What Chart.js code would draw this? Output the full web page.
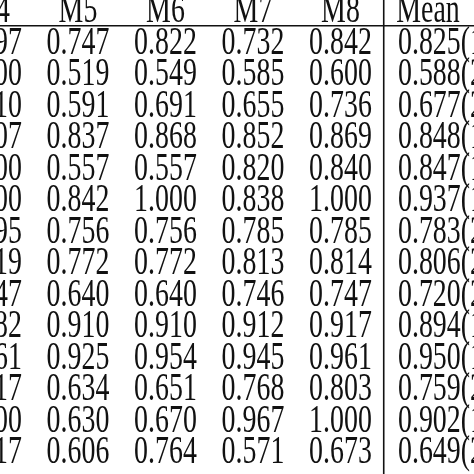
<!DOCTYPE html>
<html>
<head>
<meta charset="utf-8">
<script src="https://cdn.jsdelivr.net/npm/chart.js@4"></script>
<style>
  html, body { margin: 0; padding: 0; background: #fff; }
  #wrap { width: 474px; height: 474px; }
</style>
</head>
<body>
<div id="wrap"><canvas id="tbl"></canvas></div>
<script>
//Columnas y filas de la tabla
const columns = ["M4", "M5", "M6", "M7", "M8", "Mean"];
const colM4 = ["0.797", "0.500", "0.610", "0.807", "0.800", "1.000", "0.795", "0.819", "0.747", "0.882", "0.961", "0.717", "1.000", "0.717"];
const colM5 = ["0.747", "0.519", "0.591", "0.837", "0.557", "0.842", "0.756", "0.772", "0.640", "0.910", "0.925", "0.634", "0.630", "0.606"];
const colM6 = ["0.822", "0.549", "0.691", "0.868", "0.557", "1.000", "0.756", "0.772", "0.640", "0.910", "0.954", "0.651", "0.670", "0.764"];
const colM7 = ["0.732", "0.585", "0.655", "0.852", "0.820", "0.838", "0.785", "0.813", "0.746", "0.912", "0.945", "0.768", "0.967", "0.571"];
const colM8 = ["0.842", "0.600", "0.736", "0.869", "0.840", "1.000", "0.785", "0.814", "0.747", "0.917", "0.961", "0.803", "1.000", "0.673"];
const colMean = ["0.825(1)", "0.588(2)", "0.677(2)", "0.848(1)", "0.847(1)", "0.937(1)", "0.783(2)", "0.806(2)", "0.720(2)", "0.894(1)", "0.950(1)", "0.759(2)", "0.902(1)", "0.649(2)"];

const allCols = [colM4, colM5, colM6, colM7, colM8, colMean];

//Cada celda es un punto (x = columna, y = fila)
const cells = [];
columns.forEach((c, i) => cells.push({ x: i, y: 0, t: c }));
allCols.forEach((col, i) => col.forEach((v, r) => cells.push({ x: i, y: r + 1, t: v })));

const SX = 0.68;

const tablePlugin = {
  id: "tablePlugin",
  afterDatasetsDraw(chart) {
    const ctx = chart.ctx;
    const xs = chart.scales.x, ys = chart.scales.y;
    ctx.save();
    ctx.fillStyle = "#111";
    ctx.font = "41px 'Liberation Serif'";
    ctx.textBaseline = "middle";
    cells.forEach(c => {
      const px = xs.getPixelForValue(c.x);
      const py = ys.getPixelForValue(c.y);
      ctx.save();
      ctx.translate(px, py);
      ctx.scale(SX, 1);
      if (c.x === 5 && c.y > 0) { ctx.textAlign = "left"; ctx.fillText(c.t, -30 / SX, 0); }
      else { ctx.textAlign = "center"; ctx.fillText(c.t, 0, 0); }
      ctx.restore();
    });
    //líneas
    ctx.strokeStyle = "#111";
    ctx.lineWidth = 1.6;
    const yLine = (ys.getPixelForValue(0) + ys.getPixelForValue(1)) / 2 - 1.5;
    ctx.beginPath();
    ctx.moveTo(0, yLine); ctx.lineTo(474, yLine);
    const xLine = (xs.getPixelForValue(4) + xs.getPixelForValue(5)) / 2 - 0.5;
    ctx.moveTo(xLine, 0); ctx.lineTo(xLine, 474);
    ctx.stroke();
    ctx.restore();
  }
};

new Chart(document.getElementById("tbl"), {
  type: "scatter",
  data: { datasets: [{ data: cells, pointRadius: 0 }] },
  options: {
    responsive: true, maintainAspectRatio: false, animation: false,
    layout: { padding: 0 },
    plugins: { legend: { display: false }, tooltip: { enabled: false } },
    scales: {
      x: { type: "linear", min: 0.109, max: 5.526, display: false },
      y: { type: "linear", min: -0.365, max: 14.68, reverse: true, display: false }
    }
  },
  plugins: [tablePlugin]
});
</script>
</body>
</html>
